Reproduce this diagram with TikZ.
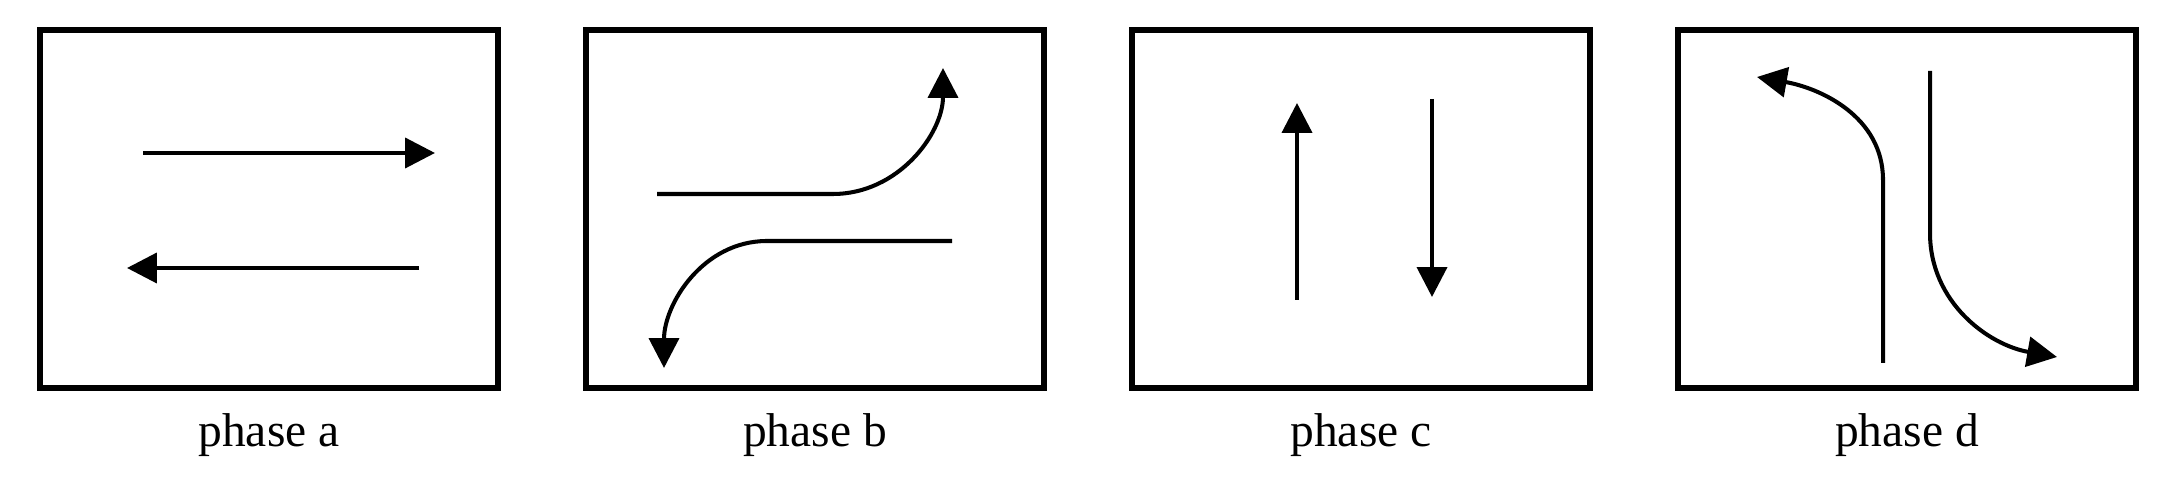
\documentclass[tikz,border=0pt]{standalone}
\usepackage{fontspec}
\setmainfont{Liberation Serif}
\usetikzlibrary{arrows.meta}
\begin{document}
\begin{tikzpicture}
	\tikzstyle{fleche}=[-{Triangle[length=8.5pt,width=8.5pt]},line width=1.15pt]
	\tikzstyle{cadre}=[draw,line width=1.45pt,minimum width=4.58cm,minimum height=3.58cm,inner sep=0pt]
	\tikzstyle{etiquette}=[anchor=base,inner sep=0pt,font=\fontsize{13.5}{16}\selectfont]
	\def\Pas{5.46}
	\def\Gauche{2.69}
	\def\Milieu{2.82}
	\def\Base{0.44}
	\useasboundingbox (0,0) rectangle (21.59,4.91);
	\node[cadre] (cadreA) at ({\Gauche+(0)*\Pas},\Milieu) {};
	\node[cadre] (cadreB) at ({\Gauche+(1)*\Pas},\Milieu) {};
	\node[cadre] (cadreC) at ({\Gauche+(2)*\Pas},\Milieu) {};
	\node[cadre] (cadreD) at ({\Gauche+(3)*\Pas},\Milieu) {};
	\node[etiquette] (phaseA) at ({\Gauche+(0)*\Pas},\Base) {phase a};
	\node[etiquette] (phaseB) at ({\Gauche+(1)*\Pas},\Base) {phase b};
	\node[etiquette] (phaseC) at ({\Gauche+(2)*\Pas},\Base) {phase c};
	\node[etiquette] (phaseD) at ({\Gauche+(3)*\Pas},\Base) {phase d};
	% phase a
	\coordinate (Aa1) at (1.43,3.38);
	\coordinate (Aa2) at (4.35,3.38);
	\coordinate (Ab1) at (4.19,2.23);
	\coordinate (Ab2) at (1.27,2.23);
	\draw[fleche] (Aa1)--(Aa2);
	\draw[fleche] (Ab1)--(Ab2);
	% phase b
	\coordinate (Ba1) at (6.57,2.97);
	\coordinate (Ba2) at (8.33,2.97);
	\coordinate (Ba3) at (9.43,4.23);
	\coordinate (Bb1) at (9.52,2.50);
	\coordinate (Bb2) at (7.67,2.50);
	\coordinate (Bb3) at (6.64,1.23);
	\draw[fleche] (Ba1)--(Ba2) to[out=0,in=-90] (Ba3);
	\draw[fleche] (Bb1)--(Bb2) to[out=180,in=90] (Bb3);
	% phase c
	\coordinate (Ca1) at (12.97,1.91);
	\coordinate (Ca2) at (12.97,3.88);
	\coordinate (Cb1) at (14.32,3.92);
	\coordinate (Cb2) at (14.32,1.94);
	\draw[fleche] (Ca1)--(Ca2);
	\draw[fleche] (Cb1)--(Cb2);
	% phase d
	\coordinate (Da1) at (18.83,1.28);
	\coordinate (Da2) at (18.83,3.11);
	\coordinate (Da3) at (17.57,4.14);
	\coordinate (Db1) at (19.30,4.20);
	\coordinate (Db2) at (19.30,2.58);
	\coordinate (Db3) at (20.57,1.34);
	\draw[fleche] (Da1)--(Da2) to[out=90,in=-10] (Da3);
	\draw[fleche] (Db1)--(Db2) to[out=-90,in=170] (Db3);
\end{tikzpicture}
\end{document}
